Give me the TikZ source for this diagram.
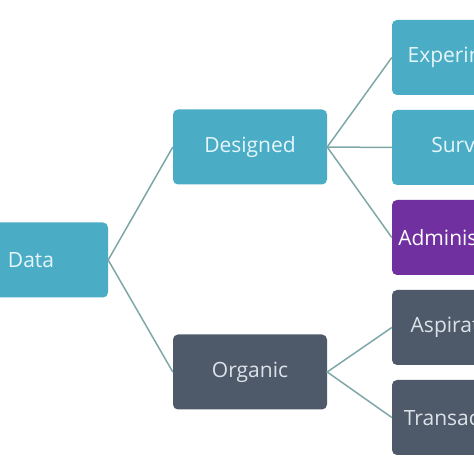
\documentclass[tikz,border=0pt]{standalone}
\usepackage{fontspec}
\setmainfont{Open Sans}
\usepackage{xcolor}
\usepackage{tikz}
\definecolor{tealbox}{HTML}{4BACC6}
\definecolor{slatebox}{HTML}{4E5A6A}
\definecolor{purplebox}{HTML}{7030A0}
\definecolor{linkline}{HTML}{7FA7A8}
\definecolor{tealtext}{HTML}{E6F6FA}
\definecolor{slatetext}{HTML}{DCE2E8}

\begin{document}
\begin{tikzpicture}[x=1pt,y=1pt,
  dbox/.style={rounded corners=5pt,minimum width=154pt,minimum height=75pt,
    inner sep=0pt,font=\fontsize{21}{25}\selectfont},
  tealb/.style={dbox,fill=tealbox,text=tealtext},
  slateb/.style={dbox,fill=slatebox,text=slatetext},
  purpleb/.style={dbox,fill=purplebox,text=white},
  link/.style={draw=linkline,line width=1.5pt}]
  \useasboundingbox (0,0) rectangle (474,474);
  \clip (0,0) rectangle (474,474);
  \node[tealb] (data) at (31,214) {Data};
  \node[tealb] (designed) at (250,327) {Designed};
  \node[slateb] (organic) at (250,102) {Organic};
  \node[tealb] (exp) at (469,416.5) {Experiments};
  \node[tealb] (surv) at (469,326.5) {Surveys};
  \node[purpleb] (admin) at (469,236.5) {Administrative};
  \node[slateb] (asp) at (469,146.5) {Aspirational};
  \node[slateb] (trans) at (469,56.5) {Transactional};
  \draw[link] (designed.west) -- (data.east) -- (organic.west);
  \draw[link] (exp.west) -- (designed.east) -- (admin.west);
  \draw[link] (designed.east) -- (surv.west);
  \draw[link] (asp.west) -- (organic.east) -- (trans.west);
\end{tikzpicture}
\end{document}
